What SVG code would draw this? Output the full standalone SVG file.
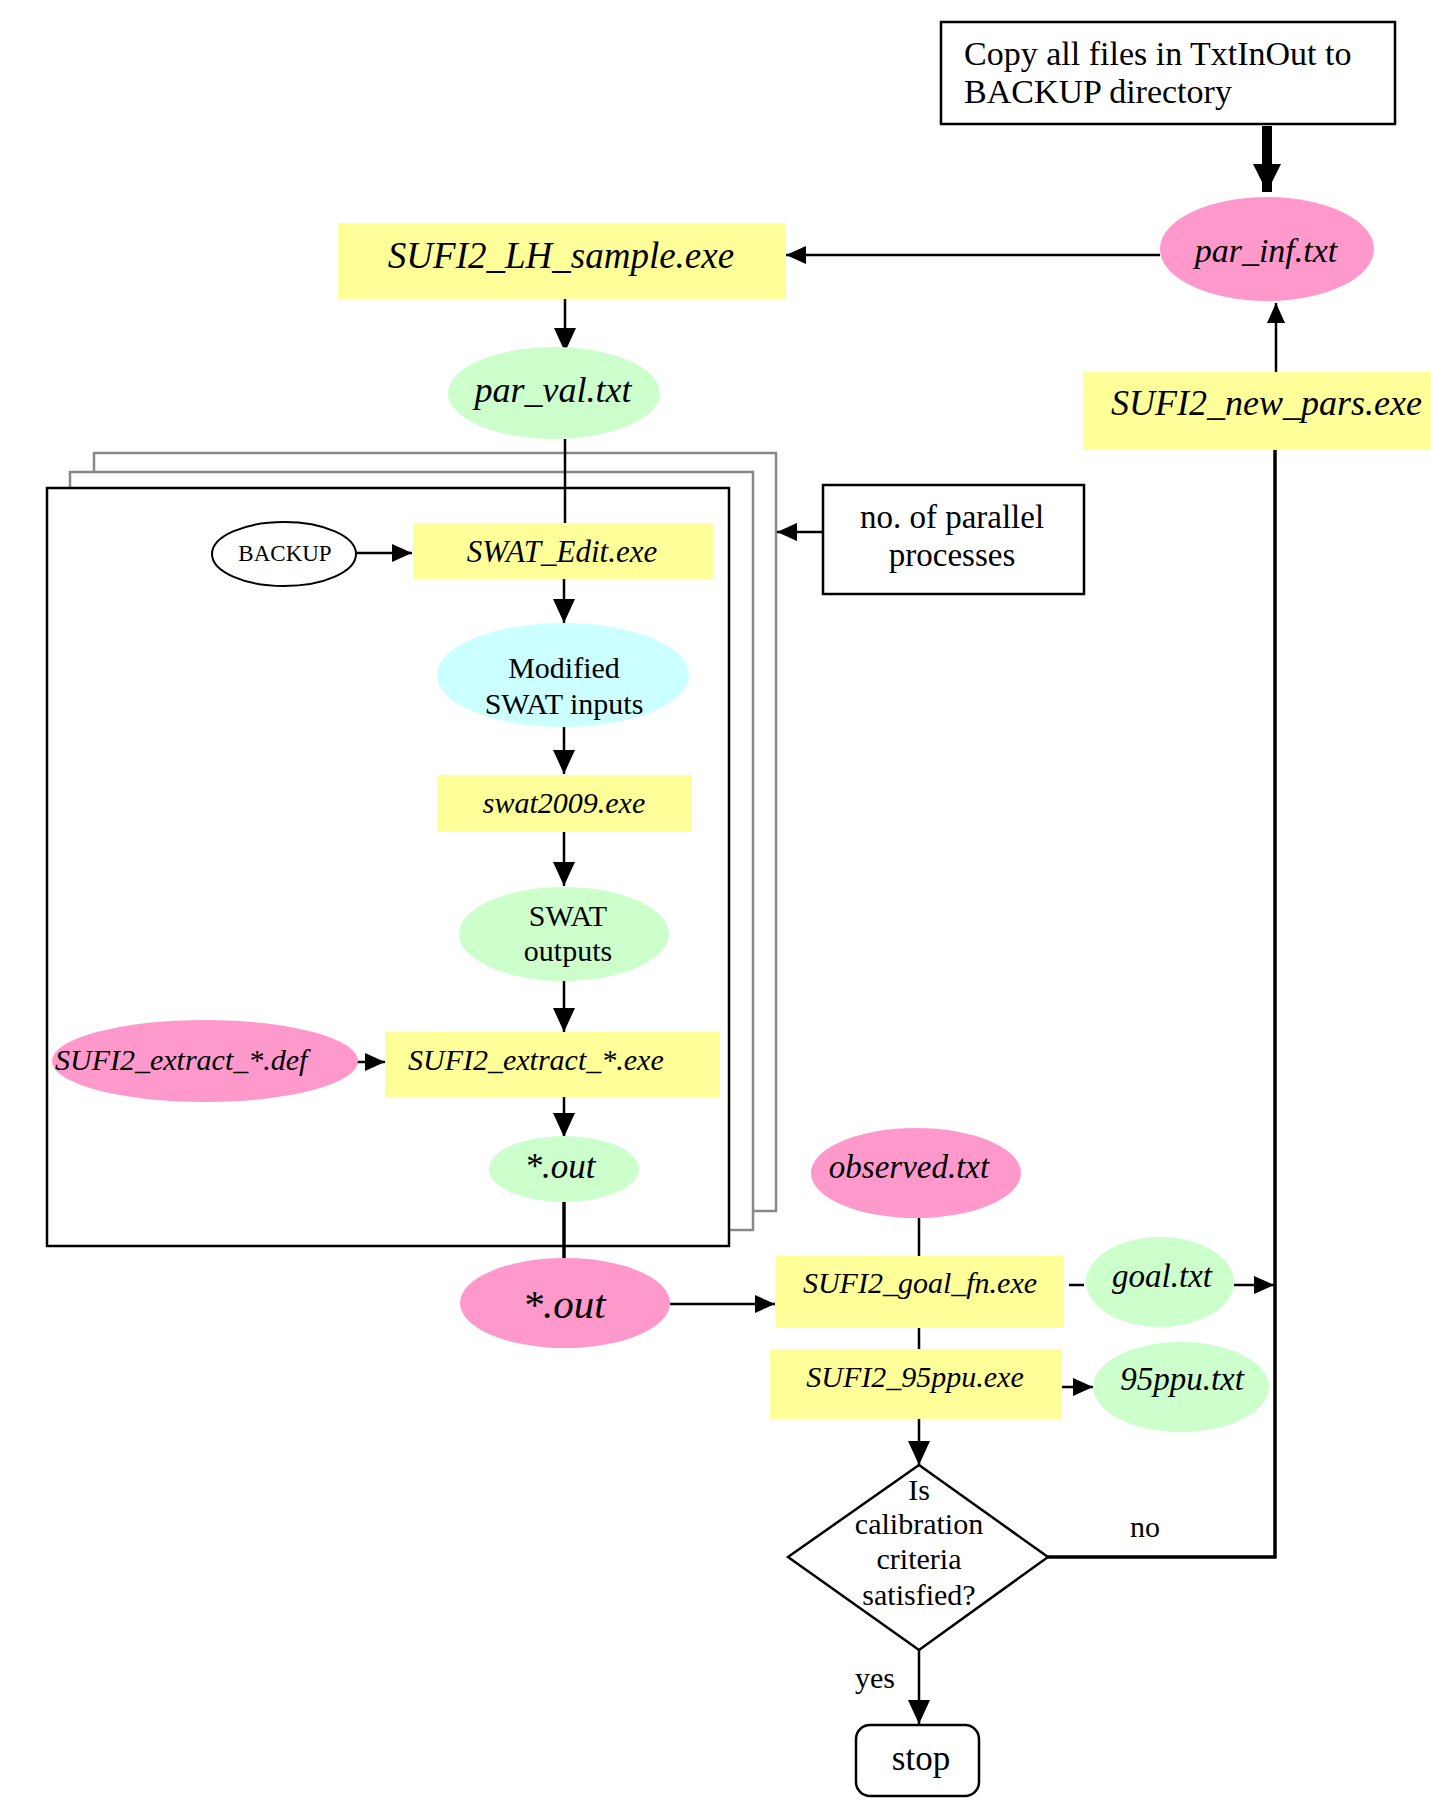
<svg xmlns="http://www.w3.org/2000/svg" width="1431" height="1801" viewBox="0 0 1431 1801">
<defs>
<style>
text{font-family:"Liberation Serif","Times New Roman",serif;fill:#000}
.it{font-style:italic}
.c{text-anchor:middle}
.yel{fill:#FFFF99;stroke:none}
.pink{fill:#FF99CC;stroke:none}
.grn{fill:#CCFFCC;stroke:none}
.cyan{fill:#CCFFFF;stroke:none}
.box{fill:#fff;stroke:#000;stroke-width:2.5}
.page{fill:#fff;stroke:#888;stroke-width:2.5}
.ln{fill:none;stroke:#000;stroke-width:2.5}
.thick{fill:none;stroke:#000;stroke-width:3.5}
</style>
<marker id="ah" markerWidth="24" markerHeight="22" refX="24" refY="11" orient="auto" markerUnits="userSpaceOnUse"><path d="M0,0 L24,11 L0,22 z" fill="#000"/></marker>
<marker id="as" markerWidth="20" markerHeight="18" refX="20" refY="9" orient="auto" markerUnits="userSpaceOnUse"><path d="M0,0 L20,9 L0,18 z" fill="#000"/></marker>
<marker id="ab" markerWidth="28" markerHeight="28" refX="28" refY="14" orient="auto" markerUnits="userSpaceOnUse"><path d="M0,0 L28,14 L0,28 z" fill="#000"/></marker>
</defs>
<rect width="1431" height="1801" fill="#fff"/>

<g id="pages">
<rect class="page" x="94" y="453" width="682" height="758"/>
<rect class="page" x="70" y="472" width="683" height="758"/>
<rect class="box" x="47" y="488" width="682" height="758"/>
</g>

<g id="connectors">
<line x1="1267" y1="126" x2="1267" y2="192" stroke="#000" stroke-width="10" marker-end="url(#ab)"/>
<line class="ln" x1="1160" y1="255" x2="786" y2="255" marker-end="url(#as)"/>
<line class="ln" x1="565" y1="299" x2="565" y2="352" marker-end="url(#ah)"/>
<line class="ln" x1="565" y1="439" x2="565" y2="523"/>
<line class="ln" x1="357" y1="553" x2="412" y2="553" marker-end="url(#as)"/>
<line class="ln" x1="564" y1="579" x2="564" y2="623" marker-end="url(#ah)"/>
<line class="ln" x1="564" y1="727" x2="564" y2="774" marker-end="url(#ah)"/>
<line class="ln" x1="564" y1="832" x2="564" y2="886" marker-end="url(#ah)"/>
<line class="ln" x1="564" y1="980" x2="564" y2="1032" marker-end="url(#ah)"/>
<line class="ln" x1="352" y1="1062" x2="385" y2="1062" marker-end="url(#as)"/>
<line class="ln" x1="564" y1="1097" x2="564" y2="1137" marker-end="url(#ah)"/>
<line class="thick" x1="564" y1="1202" x2="564" y2="1258"/>
<line class="ln" x1="670" y1="1304" x2="775" y2="1304" marker-end="url(#as)"/>
<line class="ln" x1="919" y1="1218" x2="919" y2="1256"/>
<line class="ln" x1="1069" y1="1285" x2="1084" y2="1285"/>
<line class="ln" x1="1234" y1="1285" x2="1274" y2="1285" marker-end="url(#as)"/>
<line class="ln" x1="919" y1="1328" x2="919" y2="1349"/>
<line class="ln" x1="1060" y1="1387" x2="1093" y2="1387" marker-end="url(#as)"/>
<line class="ln" x1="919" y1="1419" x2="919" y2="1465" marker-end="url(#ah)"/>
<line class="ln" x1="919" y1="1650" x2="919" y2="1724" marker-end="url(#ah)"/>
<polyline class="thick" points="1048,1557 1275,1557 1275,450"/>
<line class="ln" x1="1276" y1="372" x2="1276" y2="303" marker-end="url(#as)"/>
<line class="ln" x1="823" y1="532" x2="777" y2="532" marker-end="url(#as)"/>
</g>

<g id="copy">
<rect class="box" x="941" y="22" width="454" height="102"/>
<text x="964" y="65" font-size="34">Copy all files in TxtInOut to</text>
<text x="964" y="103" font-size="34">BACKUP directory</text>
</g>

<g id="par_inf">
<ellipse class="pink" cx="1267" cy="249" rx="107" ry="52"/>
<text class="it c" x="1266" y="262" font-size="34">par_inf.txt</text>
</g>

<g id="lh_sample">
<rect class="yel" x="338" y="223" width="448" height="76"/>
<text class="it c" x="561" y="268" font-size="37">SUFI2_LH_sample.exe</text>
</g>

<g id="par_val">
<ellipse class="grn" cx="554" cy="393" rx="106" ry="46"/>
<text class="it c" x="553" y="402" font-size="36">par_val.txt</text>
</g>

<g id="new_pars">
<rect class="yel" x="1083" y="372" width="360" height="78"/>
<text class="it" x="1111" y="415" font-size="36">SUFI2_new_pars.exe</text>
</g>

<g id="parallel">
<rect class="box" x="823" y="485" width="261" height="109"/>
<text class="c" x="952" y="528" font-size="33">no. of parallel</text>
<text class="c" x="952" y="566" font-size="33">processes</text>
</g>

<g id="backup">
<ellipse cx="284" cy="554" rx="72" ry="32" fill="#fff" stroke="#000" stroke-width="2"/>
<text class="c" x="285" y="561" font-size="23">BACKUP</text>
</g>

<g id="swat_edit">
<rect class="yel" x="413" y="523" width="300" height="56"/>
<text class="it c" x="562" y="562" font-size="31">SWAT_Edit.exe</text>
</g>

<g id="modified">
<ellipse class="cyan" cx="563" cy="675" rx="126" ry="52"/>
<text class="c" x="564" y="678" font-size="30">Modified</text>
<text class="c" x="564" y="714" font-size="30">SWAT inputs</text>
</g>

<g id="swat2009">
<rect class="yel" x="438" y="775" width="254" height="57"/>
<text class="it c" x="564" y="813" font-size="30">swat2009.exe</text>
</g>

<g id="swat_outputs">
<ellipse class="grn" cx="564" cy="934" rx="105" ry="47"/>
<text class="c" x="568" y="926" font-size="30">SWAT</text>
<text class="c" x="568" y="961" font-size="30">outputs</text>
</g>

<g id="extract_def">
<ellipse class="pink" cx="205" cy="1061" rx="153" ry="41"/>
<text class="it" x="55" y="1070" font-size="30">SUFI2_extract_*.def</text>
</g>

<g id="extract_exe">
<rect class="yel" x="385" y="1032" width="335" height="65"/>
<text class="it" x="408" y="1070" font-size="30">SUFI2_extract_*.exe</text>
</g>

<g id="out_small">
<ellipse class="grn" cx="564" cy="1169" rx="75" ry="33"/>
<text class="it c" x="560" y="1178" font-size="35">*.out</text>
</g>

<g id="out_big">
<ellipse class="pink" cx="565" cy="1303" rx="105" ry="45"/>
<text class="it c" x="564" y="1318" font-size="41">*.out</text>
</g>

<g id="observed">
<ellipse class="pink" cx="916" cy="1173" rx="105" ry="45"/>
<text class="it c" x="909" y="1178" font-size="33">observed.txt</text>
</g>

<g id="goal_fn">
<rect class="yel" x="776" y="1256" width="288" height="72"/>
<text class="it c" x="920" y="1293" font-size="30">SUFI2_goal_fn.exe</text>
</g>

<g id="goal_txt">
<ellipse class="grn" cx="1160" cy="1282" rx="74" ry="45"/>
<text class="it c" x="1162" y="1287" font-size="33">goal.txt</text>
</g>

<g id="ppu_exe">
<rect class="yel" x="770" y="1349" width="292" height="70"/>
<text class="it c" x="915" y="1387" font-size="30">SUFI2_95ppu.exe</text>
</g>

<g id="ppu_txt">
<ellipse class="grn" cx="1181" cy="1387" rx="88" ry="45"/>
<text class="it c" x="1182" y="1390" font-size="33">95ppu.txt</text>
</g>

<g id="decision">
<polygon points="919,1465 1048,1557 919,1650 788,1557" fill="#fff" stroke="#000" stroke-width="2.5"/>
<text class="c" x="919" y="1500" font-size="30">Is</text>
<text class="c" x="919" y="1534" font-size="30">calibration</text>
<text class="c" x="919" y="1569" font-size="30">criteria</text>
<text class="c" x="919" y="1605" font-size="30">satisfied?</text>
</g>

<g id="labels">
<text class="c" x="1145" y="1537" font-size="30">no</text>
<text class="c" x="875" y="1688" font-size="30">yes</text>
</g>

<g id="stop">
<rect x="856" y="1725" width="123" height="71" rx="14" fill="#fff" stroke="#000" stroke-width="2.5"/>
<text class="c" x="921" y="1770" font-size="35">stop</text>
</g>
</svg>
